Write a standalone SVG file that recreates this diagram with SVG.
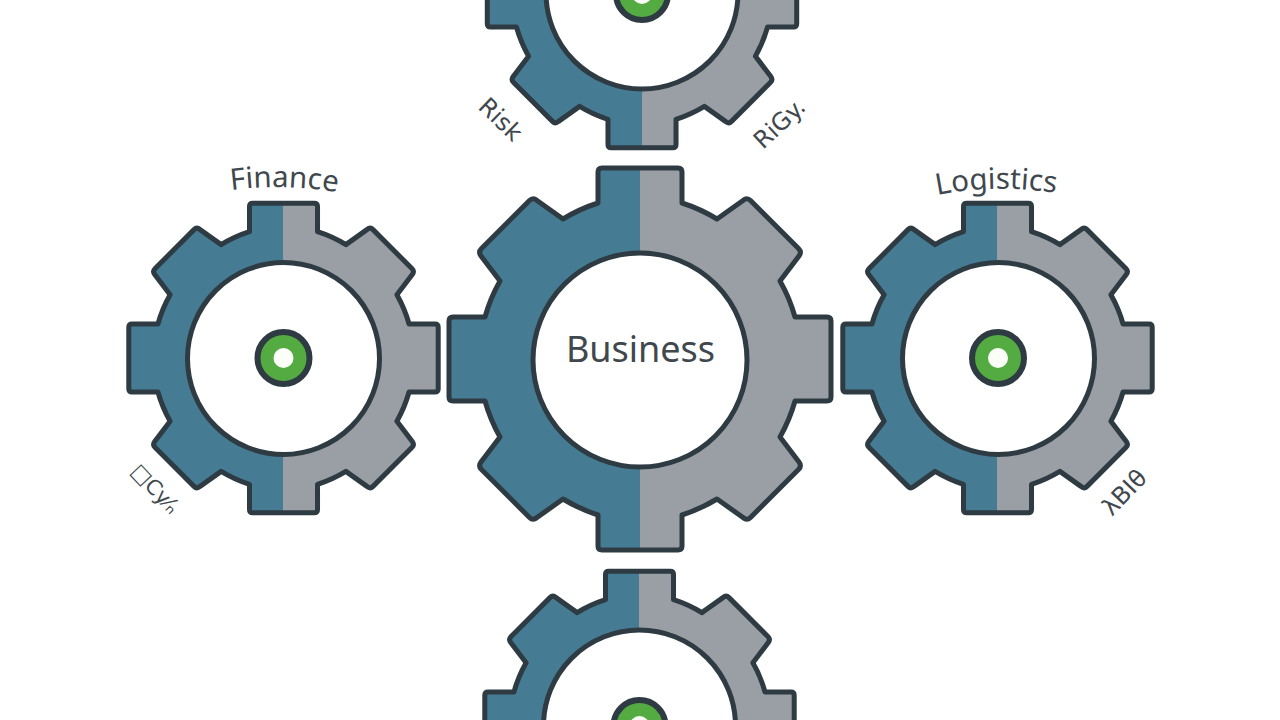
<svg xmlns="http://www.w3.org/2000/svg" width="1280" height="720" viewBox="0 0 1280 720">
<style>
.gear{stroke:#2e3b43;stroke-linejoin:round;fill:url(#split);vector-effect:non-scaling-stroke;stroke-width:5}
.hole{fill:#fff;stroke:#2e3b43;stroke-width:5}
.hub{fill:#53ab42;stroke:#2e3b43;stroke-width:6}
.eye{fill:#fbfff8}
text{font-family:"Noto Sans","Open Sans",sans-serif;fill:#40484e}
.lbl{font-size:29.500px}
.tiny{font-size:24px;font-family:"DejaVu Sans","Noto Sans",sans-serif}
</style>
<defs>
<linearGradient id="split" gradientUnits="userSpaceOnUse" x1="-200" y1="0" x2="200" y2="0">
<stop offset="0" stop-color="#457c94"/><stop offset="0.5" stop-color="#457c94"/><stop offset="0.5" stop-color="#9a9ea5"/><stop offset="1" stop-color="#9a9ea5"/>
</linearGradient>
<path id="cog" class="gear" d="M-38,-191H38Q42,-191 42,-187V-156A162,162 0 0 1 77,-140L103,-158.500Q107,-162 110.500,-158.500L158.500,-110.500Q162,-107 159,-103L140,-78A162,162 0 0 1 155,-42H187Q191,-42 191,-38V38Q191,42 187,42H155A162,162 0 0 1 140,78L159,103Q162,107 158.500,110.500L110.500,158.500Q107,162 103,158.500L77,140A162,162 0 0 1 42,156V187Q42,191 38,191H-38Q-42,191 -42,187V156A162,162 0 0 1 -77,140L-103,158.500Q-107,162 -110.500,158.500L-158.500,110.500Q-162,107 -159,103L-140,78A162,162 0 0 1 -155,42H-187Q-191,42 -191,38V-38Q-191,-42 -187,-42H-155A162,162 0 0 1 -140,-78L-159,-103Q-162,-107 -158.500,-110.500L-110.500,-158.500Q-107,-162 -103,-158.500L-77,-140A162,162 0 0 1 -42,-156V-187Q-42,-191 -38,-191Z"/>
<path id="arcFinance" d="M231,190Q286,183 342,193"/>
<path id="arcLogistics" d="M937,195Q996,183 1062,194"/>
</defs>
<rect width="1280" height="720" fill="#fff"/>
<g id="connectors"/>
<g id="gear-top">
<use href="#cog" transform="translate(642,-7) scale(.81)"/>
<circle class="hole" cx="642" cy="-7" r="96"/>
<circle class="hub" cx="642" cy="-6" r="26"/>
<circle class="eye" cx="642" cy="-6" r="10"/>
</g>
<g id="gear-finance">
<use href="#cog" transform="translate(283.500,358) scale(.81)"/>
<circle class="hole" cx="283.500" cy="358.500" r="96"/>
<circle class="hub" cx="283.500" cy="358" r="26"/>
<circle class="eye" cx="283.500" cy="358" r="10"/>
</g>
<g id="gear-business">
<use href="#cog" transform="translate(640,359)"/>
<circle class="hole" cx="640" cy="360" r="107"/>
<text x="640.500" y="362" font-size="36" text-anchor="middle">Business</text>
</g>
<g id="gear-logistics">
<use href="#cog" transform="translate(997.500,358) scale(.81)"/>
<circle class="hole" cx="998.500" cy="358.500" r="96"/>
<circle class="hub" cx="998" cy="358" r="26"/>
<circle class="eye" cx="998" cy="358" r="10"/>
</g>
<g id="gear-bottom">
<use href="#cog" transform="translate(639.500,726) scale(.81)"/>
<circle class="hole" cx="639.500" cy="726" r="96"/>
<circle class="hub" cx="639.500" cy="726" r="26"/>
<circle class="eye" cx="639.500" cy="726" r="10"/>
</g>
<g id="labels">
<text class="lbl"><textPath href="#arcFinance" startOffset="0">Finance</textPath></text>
<text class="lbl"><textPath href="#arcLogistics" startOffset="0">Logistics</textPath></text>
<text class="tiny" transform="translate(477,108) rotate(44)">Risk</text>
<text class="tiny" transform="translate(763,150) rotate(-43)">RiGy.</text>
<text class="tiny" style="font-size:21px" transform="translate(130,472) rotate(47)">□Cy⁄ₙ</text>
<text class="tiny" transform="translate(1112,517) rotate(-46)">λBIθ</text>
</g>
</svg>
